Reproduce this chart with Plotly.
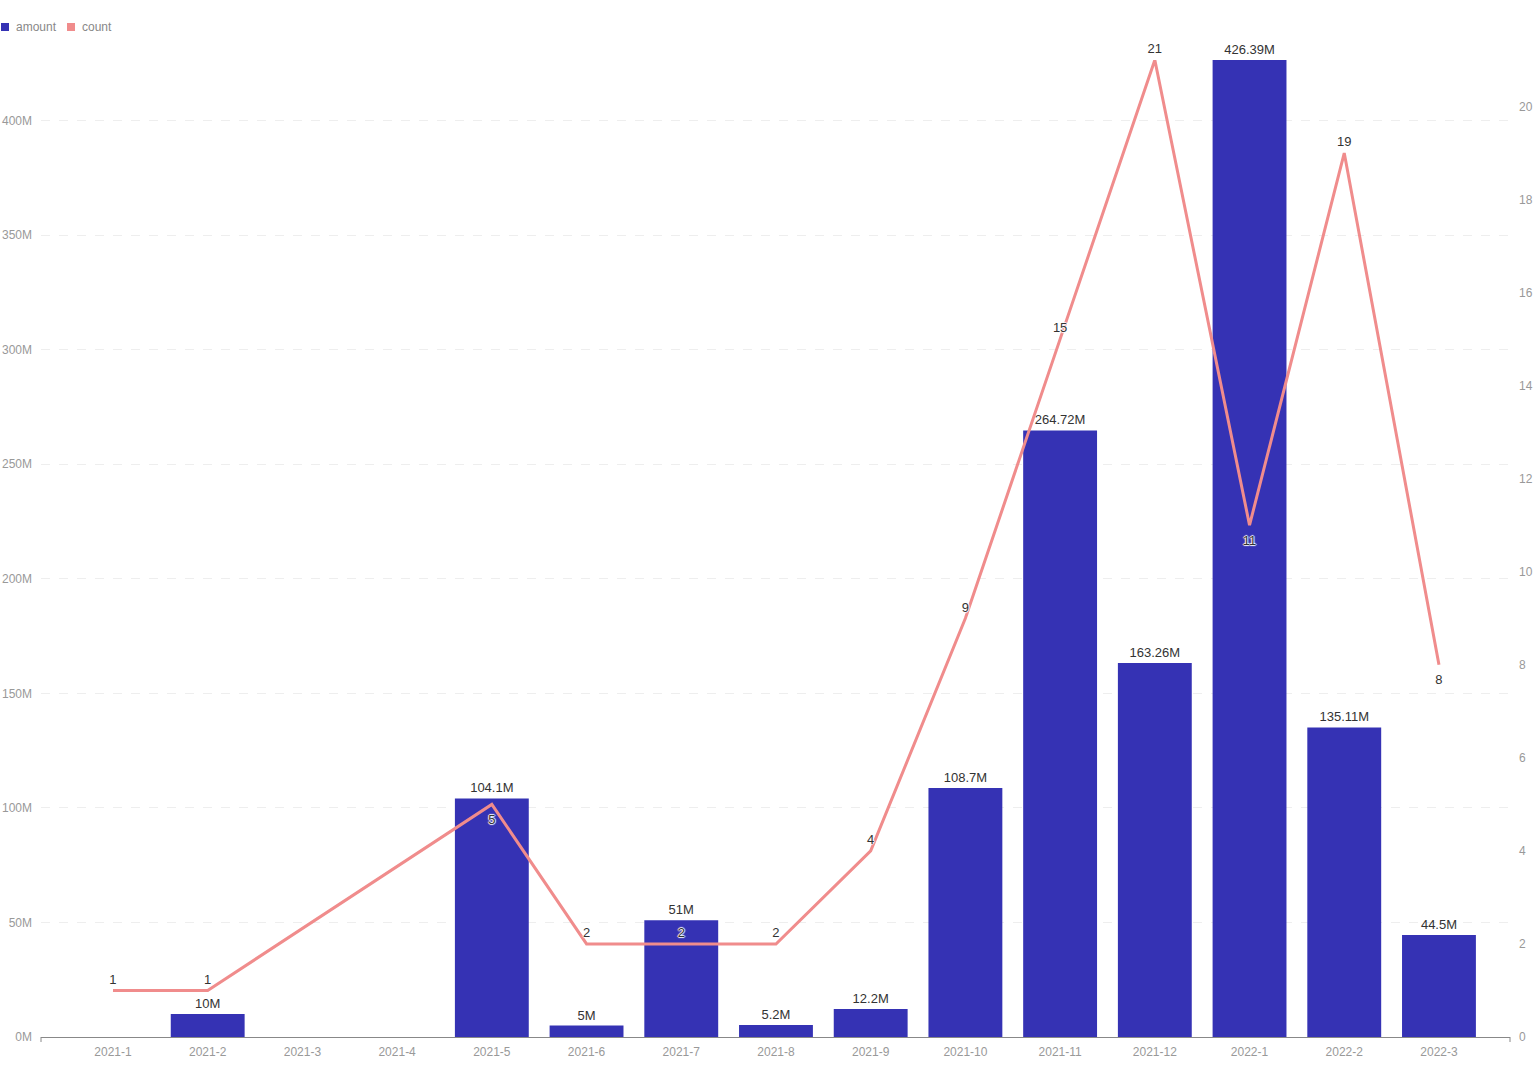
import plotly.graph_objects as go

months = ["2021-1", "2021-2", "2021-3", "2021-4", "2021-5", "2021-6", "2021-7", "2021-8",
          "2021-9", "2021-10", "2021-11", "2021-12", "2022-1", "2022-2", "2022-3"]
amount = [None, 10e6, None, None, 104.1e6, 5e6, 51e6, 5.2e6, 12.2e6, 108.7e6,
          264.72e6, 163.26e6, 426.39e6, 135.11e6, 44.5e6]
amount_labels = ["", "10M", "", "", "104.1M", "5M", "51M", "5.2M", "12.2M", "108.7M",
                 "264.72M", "163.26M", "426.39M", "135.11M", "44.5M"]
count = [1, 1, None, None, 5, 2, 2, 2, 4, 9, 15, 21, 11, 19, 8]
count_label_pos = ["top center", "top center", "top center", "top center", "bottom center",
                   "top center", "top center", "top center", "top center", "top center",
                   "top center", "top center", "bottom center", "top center", "bottom center"]
left_ticks = [0, 50e6, 100e6, 150e6, 200e6, 250e6, 300e6, 350e6, 400e6]
left_tick_text = ["0M", "50M", "100M", "150M", "200M", "250M", "300M", "350M", "400M"]
right_ticks = [0, 2, 4, 6, 8, 10, 12, 14, 16, 18, 20]
legend_names = ["amount", "count"]

BAR_C = "#3532B4"
LINE_C = "#F08C8C"
FONT = "Liberation Sans, Arial, sans-serif"
OUTLINE = "1px 0 1px #fff, -1px 0 1px #fff, 0 1px 1px #fff, 0 -1px 1px #fff"

W, H = 1536, 1080
ML, MR, MT, MB = 41, 26, 60, 43
PW, PH = W - ML - MR, H - MT - MB


def px_x(px):
    return (px - ML) / PW


def px_y(py):
    return (H - MB - py) / PH


# invisible markers only used to space the count labels from the line
label_marker_size = [14 if p.startswith("bottom") else 4 for p in count_label_pos]

fig = go.Figure()
fig.add_trace(go.Bar(
    x=months, y=amount, name="amount", marker=dict(color=BAR_C, line=dict(width=0)),
    text=amount_labels, textposition="outside", cliponaxis=False, constraintext="none",
    textfont=dict(color="#333", size=13, family=FONT), showlegend=False,
))
fig.add_trace(go.Scatter(
    x=months, y=count, name="count", yaxis="y2", mode="lines+markers+text", connectgaps=True,
    line=dict(color=LINE_C, width=3),
    marker=dict(size=label_marker_size, color="rgba(0,0,0,0)", opacity=0,
                line=dict(width=0, color="rgba(0,0,0,0)")),
    text=[("" if c is None else str(c)) for c in count],
    textposition=count_label_pos, cliponaxis=False,
    textfont=dict(color="#333", size=13, family=FONT, shadow=OUTLINE),
    showlegend=False,
))

# manual legend (square swatch + label) placed like the reference
shapes = []
annotations = []
swatch_colors = [BAR_C, LINE_C]
swatch_left = [1, 67]
for name, col, sx in zip(legend_names, swatch_colors, swatch_left):
    shapes.append(dict(type="rect", xref="paper", yref="paper",
                       x0=px_x(sx), x1=px_x(sx + 8), y0=px_y(31), y1=px_y(23),
                       fillcolor=col, line=dict(width=0)))
    annotations.append(dict(xref="paper", yref="paper", x=px_x(sx + 13), y=px_y(27),
                            xanchor="left", yanchor="middle", showarrow=False, text=name,
                            font=dict(size=12, color="#888", family=FONT)))

shapes += [
    dict(type="line", xref="paper", yref="paper", x0=0, x1=0, y0=0, y1=px_y(H - MB + 5),
         line=dict(color="#888", width=1)),
    dict(type="line", xref="paper", yref="paper", x0=1, x1=1, y0=0, y1=px_y(H - MB + 5),
         line=dict(color="#888", width=1)),
]

fig.update_layout(
    width=W, height=H,
    margin=dict(l=ML, r=MR, t=MT, b=MB, autoexpand=False),
    paper_bgcolor="white", plot_bgcolor="white",
    font=dict(family=FONT, size=12, color="#999"),
    bargap=0.22,
    showlegend=False,
    hovermode=False,
    xaxis=dict(type="category", range=[-0.76, 14.75], showline=True, linecolor="#888",
               linewidth=1, ticks="", showgrid=False, tickfont=dict(color="#999", size=12),
               ticklabelstandoff=4, fixedrange=True),
    yaxis=dict(range=[0, 426.39e6], tickvals=left_ticks, ticktext=left_tick_text,
               showgrid=True, gridcolor="#eeeeee", griddash="dash", zeroline=False,
               showline=False, tickfont=dict(color="#999", size=12), ticks="",
               ticklabelstandoff=8, fixedrange=True),
    yaxis2=dict(range=[0, 21], tickvals=right_ticks, overlaying="y", side="right",
                showgrid=False, zeroline=False, showline=False,
                tickfont=dict(color="#999", size=12), ticks="", ticklabelstandoff=8,
                fixedrange=True),
    shapes=shapes,
    annotations=annotations,
)

fig.write_html("out.html", config={"displayModeBar": False},
               post_script="document.body.style.margin='0';")
